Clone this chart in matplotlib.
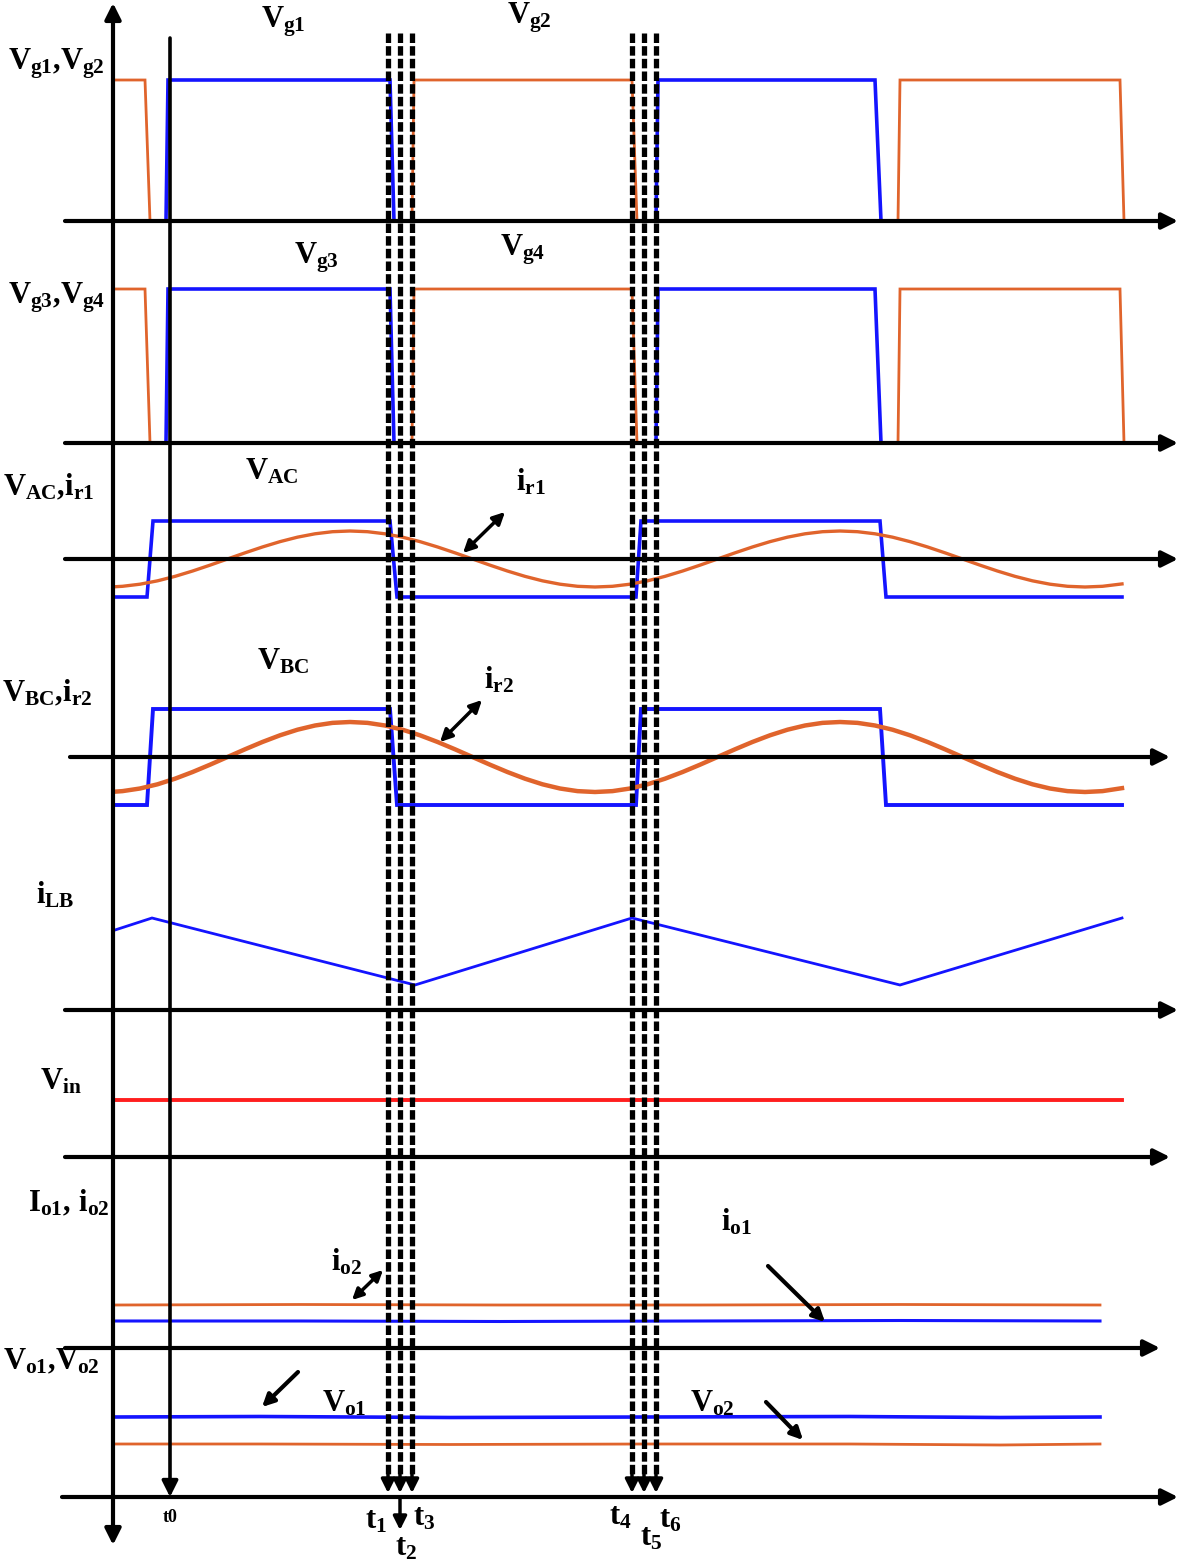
import matplotlib
matplotlib.use("Agg")
import matplotlib.pyplot as plt
import numpy as np

plt.rcParams['mathtext.fontset'] = 'custom'
plt.rcParams['mathtext.rm'] = 'Liberation Serif:bold'
plt.rcParams['mathtext.it'] = 'Liberation Serif:bold'
plt.rcParams['mathtext.bf'] = 'Liberation Serif:bold'
plt.rcParams['font.family'] = 'Liberation Serif'

BLUE = '#1414ff'
ORANGE = '#e0642c'
RED = '#ff1e1e'

# ------------------------------------
# Datos (tiempos en unidades del eje x)
# ------------------------------------
t_marks = [388, 400, 412, 632, 644, 656]
t_names = ['t_1', 't_2', 't_3', 't_4', 't_5', 't_6']
t0 = 170

# compuertas Vg1/Vg3 (azul) y Vg2/Vg4 (naranja), nivel 0..1
vg_blue_t = [115, 166, 168, 390, 394, 632, 656, 658, 875, 881, 1122]
vg_blue_v = [0, 0, 1, 1, 0, 0, 0, 1, 1, 0, 0]
vg_orng_t = [115, 145, 150, 412, 414, 632, 637, 898, 900, 1120, 1124]
vg_orng_v = [1, 1, 0, 0, 1, 1, 0, 0, 1, 1, 0]

# VAC / VBC (azul), nivel -1..1
vsq_t = [115, 147, 153, 390, 397, 636, 641, 880, 886, 1122]
vsq_v = [-1, -1, 1, 1, -1, -1, 1, 1, -1, -1]

# corrientes resonantes ir1 / ir2, forma normalizada (leida cada ~17 px)
ir_t = [115, 122.5, 140, 157.5, 175, 192.5, 210, 227.5, 245, 262.5, 280,
        297.5, 315, 332.5, 350, 367.5, 385, 402.5, 420, 437.5, 455, 472.5,
        490, 507.5, 525, 542.5, 560, 577.5, 595, 612.5, 630, 647.5, 665,
        682.5, 700, 717.5, 735, 752.5, 770, 787.5, 805, 822.5, 840, 857.5,
        875, 892.5, 910, 927.5, 945, 962.5, 980, 997.5, 1015, 1032.5, 1050,
        1067.5, 1085, 1102.5, 1122]
ir_v = [-0.99, -0.975, -0.90, -0.78, -0.62, -0.43, -0.22, 0.0, 0.22, 0.43,
        0.62, 0.78, 0.90, 0.975, 1.0, 0.975, 0.90, 0.78, 0.62, 0.43, 0.22,
        0.0, -0.22, -0.43, -0.62, -0.78, -0.90, -0.975, -1.0, -0.975, -0.90,
        -0.78, -0.62, -0.43, -0.22, 0.0, 0.22, 0.43, 0.62, 0.78, 0.90, 0.975,
        1.0, 0.975, 0.90, 0.78, 0.62, 0.43, 0.22, 0.0, -0.22, -0.43, -0.62,
        -0.78, -0.90, -0.975, -1.0, -0.975, -0.89]

# iLB
ilb_t = [115, 152, 415, 632, 900, 1122]
ilb_v = [0.80, 0.92, 0.25, 0.92, 0.25, 0.92]

# Vin
vin_t = [115, 1122]
vin_v = [0.57, 0.57]

# io1 (azul), io2 (naranja)
io_t = [115, 300, 500, 700, 900, 1100]
io1_v = [0.27, 0.27, 0.265, 0.27, 0.275, 0.27]
io2_v = [0.43, 0.435, 0.43, 0.43, 0.435, 0.43]

# Vo1 (azul), Vo2 (naranja)
vo_t = [115, 260, 450, 650, 850, 1000, 1100]
vo1_v = [0.80, 0.805, 0.795, 0.80, 0.805, 0.795, 0.80]
vo2_v = [0.53, 0.53, 0.525, 0.53, 0.53, 0.52, 0.53]

# ------------------------------------
# Figura
# ------------------------------------
fig = plt.figure(figsize=(11.8, 15.62), dpi=100)
ax = fig.add_axes([0, 0, 1, 1])
ax.set_xlim(0, 1180)
ax.set_ylim(1562, 0)
ax.axis('off')


def arrow(x0, y0, x1, y1, style='-|>', lw=3.0, ms=24):
    ax.annotate('', xy=(x1, y1), xytext=(x0, y0),
                arrowprops=dict(arrowstyle=style, lw=lw, color='k',
                                mutation_scale=ms, shrinkA=0, shrinkB=0))


def wave(t, v, base, scale, color, lw):
    ax.plot(t, base - np.asarray(v) * scale, color=color, lw=lw,
            solid_joinstyle='miter', zorder=3)


# compuertas
for base, h in [(221, 141), (443, 154)]:
    wave(vg_orng_t, vg_orng_v, base, h, ORANGE, 2.0)
    wave(vg_blue_t, vg_blue_v, base, h, BLUE, 2.6)

# VAC, ir1
wave(vsq_t, vsq_v, 559, 38, BLUE, 2.6)
wave(ir_t, ir_v, 559, 28, ORANGE, 2.4)
# VBC, ir2
wave(vsq_t, vsq_v, 757, 48, BLUE, 2.8)
wave(ir_t, ir_v, 757, 35, ORANGE, 3.2)

wave(ilb_t, ilb_v, 1010, 100, BLUE, 2.0)
wave(vin_t, vin_v, 1157, 100, RED, 2.8)
wave(io_t, io2_v, 1348, 100, ORANGE, 2.0)
wave(io_t, io1_v, 1348, 100, BLUE, 2.2)
wave(vo_t, vo1_v, 1497, 100, BLUE, 2.6)
wave(vo_t, vo2_v, 1497, 100, ORANGE, 2.0)

# ejes horizontales
for y, x0, x1 in [(221, 65, 1178), (443, 65, 1178), (559, 65, 1178),
                  (757, 70, 1170), (1010, 65, 1178), (1157, 65, 1170),
                  (1348, 65, 1160), (1497, 62, 1178)]:
    arrow(x0, y, x1, y)

# eje vertical principal y linea t0
arrow(113, 1545, 113, 3, style='<|-|>')
arrow(170, 38, 170, 1497, lw=2.6)

# lineas punteadas t1..t6
for x in t_marks:
    ax.plot([x, x], [33, 1478], color='k', lw=3.8,
            linestyle=(0, (1.8, 0.6)), zorder=4)
    arrow(x, 1474, x, 1493, lw=2.5, ms=20)
arrow(400, 1497, 400, 1530, lw=2.5, ms=20)

# flechas de indicacion
arrow(463, 553, 505, 512, style='<|-|>', lw=2.5, ms=18)
arrow(440, 742, 482, 700, style='<|-|>', lw=2.5, ms=18)
arrow(352, 1300, 383, 1270, style='<|-|>', lw=2.5, ms=16)
arrow(768, 1266, 825, 1322, lw=3, ms=18)
arrow(298, 1372, 262, 1407, lw=3, ms=18)
arrow(766, 1402, 803, 1440, lw=3, ms=18)

# ------------------------------------
# Etiquetas
# ------------------------------------
fs = 22
labels = [
    (8, 64, r'$\mathrm{V_{g1}{,}V_{g2}}$', 'left'),
    (8, 298, r'$\mathrm{V_{g3}{,}V_{g4}}$', 'left'),
    (3, 487, r'$\mathrm{V_{AC}{,}i_{r1}}$', 'left'),
    (2, 693, r'$\mathrm{V_{BC}{,}i_{r2}}$', 'left'),
    (36, 895, r'$\mathrm{i_{LB}}$', 'left'),
    (40, 1082, r'$\mathrm{V_{in}}$', 'left'),
    (28, 1203, r'$\mathrm{I_{o1}{,}\ i_{o2}}$', 'left'),
    (3, 1362, r'$\mathrm{V_{o1}{,}V_{o2}}$', 'left'),
    (283, 22, r'$\mathrm{V_{g1}}$', 'center'),
    (529, 18, r'$\mathrm{V_{g2}}$', 'center'),
    (316, 258, r'$\mathrm{V_{g3}}$', 'center'),
    (523, 250, r'$\mathrm{V_{g4}}$', 'center'),
    (272, 472, r'$\mathrm{V_{AC}}$', 'center'),
    (531, 482, r'$\mathrm{i_{r1}}$', 'center'),
    (283, 662, r'$\mathrm{V_{BC}}$', 'center'),
    (499, 680, r'$\mathrm{i_{r2}}$', 'center'),
    (347, 1262, r'$\mathrm{i_{o2}}$', 'center'),
    (737, 1222, r'$\mathrm{i_{o1}}$', 'center'),
    (344, 1404, r'$\mathrm{V_{o1}}$', 'center'),
    (712, 1404, r'$\mathrm{V_{o2}}$', 'center'),
]
for x, y, s, ha in labels:
    ax.text(x, y, s, fontsize=fs, ha=ha, va='center')

t_pos = [(376, 1521), (406, 1548), (424, 1518), (620, 1517), (651, 1538),
         (670, 1520)]
for (x, y), s in zip(t_pos, t_names):
    ax.text(x, y, r'$\mathrm{%s}$' % s, fontsize=fs, ha='center', va='center')
ax.text(t0, 1517, r'$\mathrm{t0}$', fontsize=13, ha='center', va='center')

fig.savefig('out.png', dpi=100)
